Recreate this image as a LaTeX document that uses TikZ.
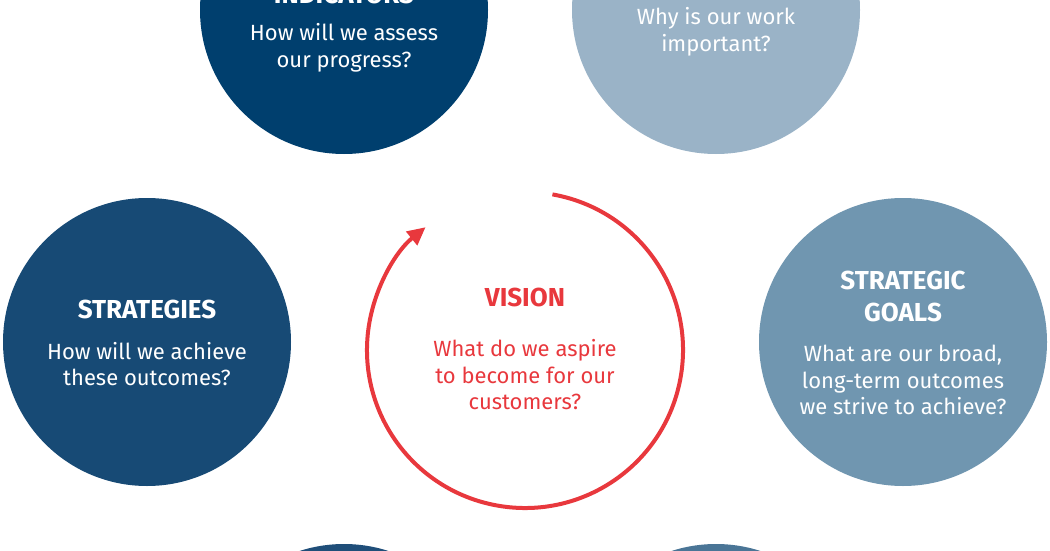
\documentclass[tikz,border=0pt]{standalone}
\usepackage{fontspec}
\setmainfont{Fira Sans}
\usetikzlibrary{arrows.meta,calc}
\definecolor{cA}{HTML}{003F6E}
\definecolor{cB}{HTML}{9AB3C7}
\definecolor{cC}{HTML}{174A75}
\definecolor{cD}{HTML}{7096B0}
\definecolor{cE}{HTML}{1F4E79}
\definecolor{cF}{HTML}{4A7596}
\definecolor{vred}{HTML}{E8383D}
\tikzset{
 disc/.style={circle,minimum size=288pt,inner sep=0pt},
 txt/.style={text=white,align=center,font=\fontsize{22}{26.5}\selectfont},
 head/.style={text=white,align=center,font=\fontsize{26}{32}\selectfont\bfseries},
}
\begin{document}
\begin{tikzpicture}[x=1pt,y=-1pt]
\useasboundingbox (0,0) rectangle (1050,551);
\clip (0,0) rectangle (1050,551);
\node[disc,fill=cA] (ind) at (344,10) {};
\node[disc,fill=cB] (mis) at (716,10) {};
\node[disc,fill=cC] (str) at (147,342) {};
\node[disc,fill=cD] (goal) at (903,342) {};
\node[disc,fill=cE] (b1) at (344,688) {};
\node[disc,fill=cF] (b2) at (716,688) {};
\node[head] (indh) at (344,-6) {INDICATORS};
\node[txt] (indt) at (344,48) {How will we assess\\our progress?};
\node[txt] (mist) at (716,32) {Why is our work\\important?};
\node[head] (strh) at (147,309) {STRATEGIES};
\node[txt] (strt) at (147,364) {How will we achieve\\these outcomes?};
\node[head] (goalh) at (903,296) {STRATEGIC\\GOALS};
\node[txt] (goalt) at (903,380) {What are our broad,\\long-term outcomes\\we strive to achieve?};
\node[head,text=vred] (vh) at (525,297) {VISION};
\node[txt,text=vred] (vt) at (525,375) {What do we aspire\\to become for our\\customers?};
\coordinate (vc) at (525,350);
\draw[vred,line width=4pt,-{Triangle[length=18pt,width=17pt]}] ($(vc)+(-80:158)$) arc[start angle=-80,end angle=231,radius=158];
\end{tikzpicture}
\end{document}
